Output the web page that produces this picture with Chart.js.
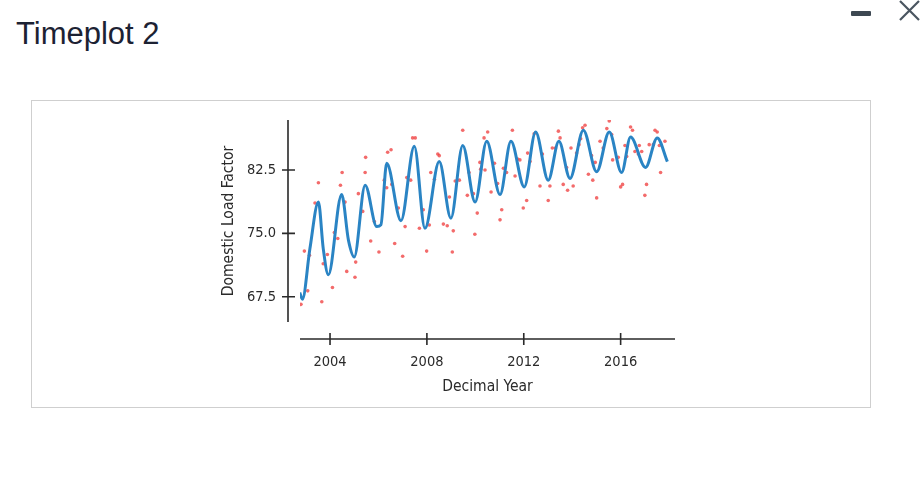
<!DOCTYPE html>
<html>
<head>
<meta charset="utf-8">
<script src="https://cdn.jsdelivr.net/npm/chart.js@4"></script>
<style>
  body { margin: 0; background: #fff; width: 922px; height: 480px; position: relative; overflow: hidden; }
  #title { position: absolute; left: 16px; top: 18px; font: 31px "Liberation Sans", Arial, sans-serif; line-height: 31px; color: #1c2233; }
  #minus { position: absolute; left: 851px; top: 11px; width: 20px; height: 5px; background: #3d4852; border-radius: 1px; }
  #close { position: absolute; left: 898px; top: 0px; }
  #box { position: absolute; left: 31px; top: 100px; width: 838px; height: 306px; border: 1px solid #cfcfcf; }
</style>
</head>
<body>
<div id="title">Timeplot 2</div>
<div id="minus"></div>
<svg id="close" width="24" height="22"><path d="M2 1 L21 20 M21 1 L2 20" stroke="#4a5560" stroke-width="2.2"/></svg>
<div id="box"><canvas id="timeplot" width="838" height="306"></canvas></div>
<script>
// smooth seasonal fit (blue line)
const fitYears = [2002.75, 2002.86, 2003.17, 2003.52, 2003.72, 2003.93, 2004.48, 2004.76, 2005.0, 2005.45, 2005.93, 2006.1,
  2006.34, 2006.93, 2007.48, 2007.92, 2008.51, 2008.99, 2009.48, 2009.99, 2010.47, 2011.02, 2011.47, 2012.02,
  2012.49, 2013.01, 2013.45, 2013.91, 2014.46, 2015.01, 2015.53, 2016.04, 2016.41, 2017.03, 2017.51, 2017.93];
const fitValues = [68.0, 67.2, 73.2, 78.7, 73.2, 70.1, 79.6, 74.2, 72.2, 80.7, 75.8, 76.0,
  83.3, 76.5, 85.3, 75.6, 83.5, 76.8, 85.4, 78.7, 85.9, 79.6, 85.9, 80.5,
  87.0, 81.3, 85.9, 81.5, 87.2, 82.3, 87.0, 82.2, 86.4, 82.8, 86.3, 83.5];

// monthly observations (red dots)
const obsYears = [2002.80, 2002.94, 2003.08, 2003.15, 2003.38, 2003.52, 2003.66, 2003.72, 2003.89, 2004.10, 2004.18, 2004.32,
  2004.43, 2004.50, 2004.62, 2004.69, 2005.03, 2005.06, 2005.17, 2005.35, 2005.45, 2005.47, 2005.68, 2005.83,
  2006.02, 2006.24, 2006.34, 2006.38, 2006.52, 2006.55, 2006.67, 2006.82, 2007.00, 2007.10, 2007.17, 2007.33,
  2007.41, 2007.52, 2007.69, 2007.85, 2007.99, 2008.10, 2008.16, 2008.31, 2008.45, 2008.51, 2008.68, 2008.84,
  2008.93, 2009.05, 2009.09, 2009.17, 2009.34, 2009.48, 2009.67, 2009.74, 2009.92, 2009.98, 2010.08, 2010.19,
  2010.22, 2010.36, 2010.40, 2010.51, 2010.65, 2010.79, 2010.92, 2011.02, 2011.09, 2011.16, 2011.29, 2011.53,
  2011.64, 2011.75, 2011.84, 2011.98, 2012.12, 2012.16, 2012.26, 2012.43, 2012.67, 2012.77, 2013.01, 2013.08,
  2013.18, 2013.31, 2013.43, 2013.50, 2013.63, 2013.77, 2013.81, 2013.95, 2014.04, 2014.18, 2014.28, 2014.35,
  2014.43, 2014.53, 2014.67, 2014.80, 2014.85, 2014.95, 2015.01, 2015.15, 2015.28, 2015.43, 2015.53, 2015.63,
  2015.67, 2015.90, 2016.00, 2016.08, 2016.18, 2016.25, 2016.41, 2016.49, 2016.59, 2016.73, 2016.77, 2016.87,
  2017.00, 2017.07, 2017.18, 2017.35, 2017.42, 2017.51, 2017.60, 2017.65, 2017.83];
const obsValues = [66.6, 72.9, 68.2, 72.4, 78.6, 81.0, 66.9, 71.4, 72.5, 68.6, 75.1, 74.4,
  80.7, 82.2, 78.7, 70.5, 69.8, 71.6, 79.7, 77.6, 82.2, 84.0, 74.1, 76.4,
  72.8, 81.3, 80.4, 84.6, 84.9, 80.8, 73.8, 78.0, 72.3, 75.8, 81.6, 81.3,
  86.3, 86.3, 75.6, 77.8, 72.9, 76.0, 82.2, 81.4, 84.4, 84.2, 76.1, 75.9,
  79.3, 72.8, 75.3, 81.2, 81.3, 87.2, 79.5, 82.2, 79.7, 74.9, 77.4, 83.4,
  82.6, 86.3, 82.5, 87.0, 79.9, 83.3, 80.9, 76.6, 77.8, 82.7, 82.2, 87.2,
  81.8, 83.8, 83.7, 78.0, 78.9, 84.5, 83.5, 86.8, 80.6, 84.4, 78.9, 80.6,
  85.1, 85.1, 87.1, 86.3, 80.8, 82.8, 80.1, 85.1, 80.6, 84.5, 85.5, 86.2,
  87.5, 87.8, 82.0, 84.2, 81.3, 83.4, 79.2, 85.9, 85.1, 87.4, 88.3, 86.7,
  83.7, 84.0, 80.5, 80.8, 85.4, 84.1, 87.6, 87.2, 84.7, 84.4, 85.4, 84.7,
  79.5, 80.8, 85.5, 85.5, 87.2, 87.0, 85.4, 82.2, 85.9];

const xTicks = [2004, 2008, 2012, 2016];
const yTicks = [67.5, 75.0, 82.5];

const fontFamily = '"DejaVu Sans Condensed", "Liberation Sans Narrow", sans-serif';
const tickFont = { family: fontFamily, size: 14.5 };
const titleFont = { family: fontFamily, size: 15.5 };
const inkColor = '#2a2a2a';

// draws the detached (range-frame) axes with crossing tick marks
const rangeFrame = {
    id: 'rangeFrame',
    afterDraw(chart) {
        const ctx = chart.ctx;
        const area = chart.chartArea;
        const xs = chart.scales.x, ys = chart.scales.y;
        const axisX = area.left - 12;
        const axisY = area.bottom + 17;
        ctx.save();
        ctx.strokeStyle = inkColor;
        ctx.lineWidth = 1.6;
        ctx.beginPath();
        ctx.moveTo(axisX, area.top);
        ctx.lineTo(axisX, area.bottom);
        yTicks.forEach(v => {
            const py = ys.getPixelForValue(v);
            ctx.moveTo(axisX - 6, py);
            ctx.lineTo(axisX + 7, py);
        });
        ctx.moveTo(area.left, axisY);
        ctx.lineTo(area.right, axisY);
        xTicks.forEach(v => {
            const px = xs.getPixelForValue(v);
            ctx.moveTo(px, axisY - 6);
            ctx.lineTo(px, axisY + 6);
        });
        ctx.stroke();
        ctx.restore();
    }
};

new Chart(document.getElementById('timeplot'), {
    type: 'scatter',
    plugins: [rangeFrame],
    data: {
        datasets: [{
            type: 'line',
            data: fitYears.map((x, i) => ({ x: x, y: fitValues[i] })),
            borderColor: '#2a84c4',
            borderWidth: 3,
            pointRadius: 0,
            fill: false,
            cubicInterpolationMode: 'monotone',
            order: 0
        }, {
            data: obsYears.map((x, i) => ({ x: x, y: obsValues[i] })),
            backgroundColor: 'rgba(240, 70, 70, 0.8)',
            borderWidth: 0,
            pointRadius: 1.8,
            order: 1
        }]
    },
    options: {
        responsive: false,
        animation: false,
        layout: { padding: { left: 186, right: 195, top: 19, bottom: 11 } },
        plugins: { legend: { display: false }, tooltip: { enabled: false } },
        scales: {
            x: {
                type: 'linear',
                min: 2002.76,
                max: 2018.245,
                grid: { display: false },
                border: { display: false },
                afterFit: s => { s.height = 74; s.paddingLeft = 0; s.paddingRight = 0; },
                afterBuildTicks: s => { s.ticks = xTicks.map(v => ({ value: v })); },
                ticks: { padding: 24, color: inkColor, font: tickFont, callback: v => String(v) },
                title: { display: true, text: 'Decimal Year', color: inkColor, font: titleFont, padding: 0 }
            },
            y: {
                min: 64.51,
                max: 88.42,
                grid: { display: false },
                border: { display: false },
                afterFit: s => { s.width = 82; s.paddingTop = 0; s.paddingBottom = 0; },
                afterBuildTicks: s => { s.ticks = yTicks.map(v => ({ value: v })); },
                ticks: { padding: 16, color: inkColor, font: tickFont, callback: v => v.toFixed(1) },
                title: { display: true, text: 'Domestic Load Factor', color: inkColor, font: titleFont, padding: { top: 2 } }
            }
        }
    }
});
</script>
</body>
</html>
